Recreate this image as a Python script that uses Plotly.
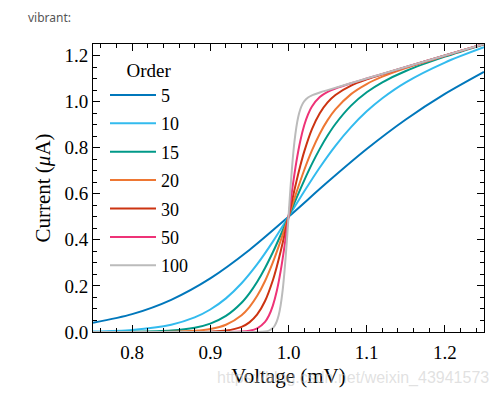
import plotly.graph_objects as go

orders = ["5", "10", "15", "20", "30", "50", "100"]
colors = ["#0077BB", "#33BBEE", "#009988", "#EE7733", "#CC3311", "#EE3377", "#BBBBBB"]

x_order5 = [0.75, 0.80, 0.85, 0.90, 0.95, 1.00, 1.05, 1.10, 1.15, 1.20, 1.25]
y_order5 = [0.0400, 0.0776, 0.1398, 0.2327, 0.3558, 0.5, 0.6506, 0.7939, 0.9221, 1.0331, 1.1288]

x_order10 = [0.75, 0.80, 0.85, 0.88, 0.90, 0.92, 0.94, 0.96, 0.98, 1.00, 1.02, 1.04, 1.06, 1.08,
             1.10, 1.12, 1.15, 1.20, 1.25]
y_order10 = [0.0024, 0.0091, 0.0317, 0.0633, 0.0976, 0.1460, 0.2114, 0.2943, 0.3923, 0.5, 0.6097,
             0.7141, 0.8081, 0.8892, 0.9577, 1.0148, 1.0838, 1.1695, 1.2358]

x_order15 = [0.75, 0.80, 0.85, 0.88, 0.90, 0.92, 0.94, 0.95, 0.96, 0.97, 0.98, 0.99, 1.00, 1.01,
             1.02, 1.03, 1.04, 1.05, 1.06, 1.08, 1.10, 1.12, 1.15, 1.20, 1.25]
y_order15 = [0.0001, 0.0010, 0.0064, 0.0186, 0.0366, 0.0697, 0.1270, 0.1679, 0.2180, 0.2776, 0.3459,
             0.4209, 0.5, 0.5798, 0.6572, 0.7295, 0.7949, 0.8527, 0.9028, 0.9824, 1.0404, 1.0838,
             1.1329, 1.1950, 1.2485]

x_order20 = [0.75, 0.80, 0.85, 0.88, 0.90, 0.92, 0.94, 0.95, 0.96, 0.97, 0.98, 0.99, 1.00, 1.01,
             1.02, 1.03, 1.04, 1.05, 1.06, 1.08, 1.10, 1.12, 1.15, 1.20, 1.25]
y_order20 = [0.0000, 0.0001, 0.0013, 0.0053, 0.0131, 0.0316, 0.0730, 0.1082, 0.1569, 0.2214, 0.3021,
             0.3968, 0.5, 0.6042, 0.7021, 0.7883, 0.8607, 0.9194, 0.9661, 1.0325, 1.0762, 1.1081,
             1.1457, 1.1992, 1.2498]

x_order30 = [0.75, 0.85, 0.88, 0.90, 0.92, 0.94, 0.95, 0.96, 0.97, 0.98, 0.985, 0.99, 0.995, 1.00,
             1.005, 1.01, 1.015, 1.02, 1.03, 1.04, 1.05, 1.06, 1.08, 1.10, 1.12, 1.15, 1.20, 1.25]
y_order30 = [0.0000, 0.0000, 0.0004, 0.0016, 0.0061, 0.0224, 0.0418, 0.0763, 0.1344, 0.2247, 0.2833,
             0.3501, 0.4232, 0.5, 0.5771, 0.6515, 0.7202, 0.7817, 0.8805, 0.9497, 0.9967, 1.0288,
             1.0694, 1.0964, 1.1188, 1.1497, 1.2000, 1.2500]

x_order50 = [0.75, 0.90, 0.92, 0.94, 0.95, 0.96, 0.97, 0.975, 0.98, 0.985, 0.99, 0.995, 1.00, 1.005,
             1.01, 1.015, 1.02, 1.025, 1.03, 1.04, 1.05, 1.06, 1.08, 1.10, 1.15, 1.20, 1.25]
y_order50 = [0.0000, 0.0000, 0.0002, 0.0019, 0.0056, 0.0159, 0.0440, 0.0718, 0.1147, 0.1780, 0.2653,
             0.3753, 0.5, 0.6253, 0.7374, 0.8282, 0.8963, 0.9450, 0.9791, 1.0198, 1.0421, 1.0569,
             1.0795, 1.0999, 1.15, 1.20, 1.25]

x_order100 = [0.75, 0.90, 0.95, 0.96, 0.97, 0.975, 0.98, 0.9825, 0.985, 0.9875, 0.99, 0.9925, 0.995,
              0.9975, 1.00, 1.0025, 1.005, 1.0075, 1.01, 1.0125, 1.015, 1.0175, 1.02, 1.025, 1.03,
              1.04, 1.05, 1.10, 1.15, 1.20, 1.25]
y_order100 = [0.0000, 0.0000, 0.0000, 0.0003, 0.0022, 0.0061, 0.0169, 0.0280, 0.0457, 0.0738, 0.1170,
              0.1802, 0.2671, 0.3765, 0.5, 0.6239, 0.7342, 0.8229, 0.8885, 0.9346, 0.9658, 0.9868,
              1.0009, 1.0177, 1.0272, 1.0396, 1.0499, 1.10, 1.15, 1.20, 1.25]

xs = [x_order5, x_order10, x_order15, x_order20, x_order30, x_order50, x_order100]
ys = [y_order5, y_order10, y_order15, y_order20, y_order30, y_order50, y_order100]

SERIF = "Liberation Serif, Times New Roman, serif"

# the page body adds an 8px offset; size the figure so that it fits the 504x394 window
OFF = 8
W, H = 504 - OFF, 394 - OFF
ML, MR, MT, MB = 93 - OFF, 20, 44 - OFF, 62

fig = go.Figure()
for name, c, xv, yv in zip(orders, colors, xs, ys):
    fig.add_trace(go.Scatter(
        x=xv, y=yv, name=name, mode="lines", legendgroup=name,
        line=dict(color=c, width=2, shape="spline", smoothing=0.8),
    ))

axis_common = dict(
    showline=True, linecolor="black", linewidth=1, mirror="allticks",
    ticks="inside", ticklen=7, tickwidth=1, tickcolor="black",
    showgrid=False, zeroline=False,
    tickfont=dict(family=SERIF, size=19, color="black"),
)

fig.update_xaxes(
    range=[0.75, 1.25], dtick=0.1, tick0=0.8, tickformat=".1f", ticklabelstandoff=3,
    minor=dict(ticks="inside", ticklen=4, dtick=0.02, tick0=0.76, tickcolor="black", showgrid=False),
    title=dict(text="Voltage (mV)", font=dict(family=SERIF, size=21, color="black"), standoff=6),
    **axis_common,
)
fig.update_yaxes(
    range=[0, 1.25], dtick=0.2, tick0=0, tickformat=".1f",
    minor=dict(ticks="inside", ticklen=4, dtick=0.05, tick0=0, tickcolor="black", showgrid=False),
    title=dict(text="Current (<i>μ</i>A)", font=dict(family=SERIF, size=21, color="black"), standoff=8),
    **axis_common,
)

pw = W - ML - MR
ph = H - MT - MB


def px_to_paper(px, py):
    return (px - OFF - ML) / pw, (H - MB - (py - OFF)) / ph


lx, ly = px_to_paper(105, 52)
a1x, a1y = px_to_paper(26, 17)
a2x, a2y = px_to_paper(215, 378)

fig.update_layout(
    width=W, height=H,
    margin=dict(l=ML, r=MR, t=MT, b=MB),
    paper_bgcolor="white", plot_bgcolor="white",
    showlegend=True,
    legend=dict(
        x=lx, y=ly, xanchor="left", yanchor="top",
        bgcolor="rgba(255,255,255,0)", borderwidth=0,
        font=dict(family=SERIF, size=18, color="black"),
        title=dict(text="Order", side="top center", font=dict(family=SERIF, size=19, color="black")),
        traceorder="grouped", tracegroupgap=2, itemwidth=46,
    ),
    annotations=[
        dict(text="vibrant:", x=a1x, y=a1y, xref="paper", yref="paper", showarrow=False,
             font=dict(family="Noto Sans", size=12, color="#555555"), xanchor="left", yanchor="middle"),
        dict(text="https://blog.csdn.net/weixin_43941573", x=a2x, y=a2y, xref="paper", yref="paper",
             showarrow=False, font=dict(family="Liberation Sans", size=16, color="rgba(200,200,200,0.55)"),
             xanchor="left", yanchor="middle"),
    ],
)

fig.write_html("out.html")
